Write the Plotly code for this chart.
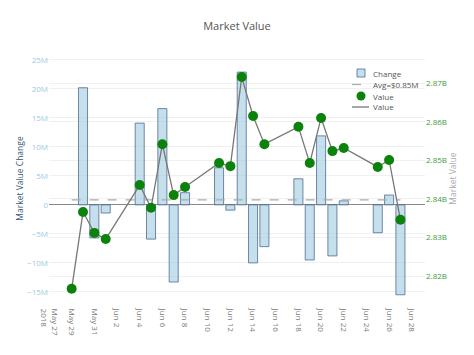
import plotly.graph_objects as go

# ---- data ----
value_dates = ["2018-05-29", "2018-05-30", "2018-05-31", "2018-06-01", "2018-06-04",
               "2018-06-05", "2018-06-06", "2018-06-07", "2018-06-08", "2018-06-11",
               "2018-06-12", "2018-06-13", "2018-06-14", "2018-06-15", "2018-06-18",
               "2018-06-19", "2018-06-20", "2018-06-21", "2018-06-22", "2018-06-25",
               "2018-06-26", "2018-06-27"]
values_b = [2.8167, 2.8366, 2.8312, 2.8296, 2.8436, 2.8377, 2.8542, 2.8410, 2.8431,
            2.8493, 2.8485, 2.8716, 2.8615, 2.8542, 2.8587, 2.8493, 2.8610, 2.8524,
            2.8532, 2.8483, 2.8501, 2.8346]
change_dates = value_dates[1:]
changes_m = [20.2, -5.7, -1.4, 14.1, -5.9, 16.6, -13.3, 2.1, 6.4, -0.9, 22.9, -10.0,
             -7.2, 4.5, -9.5, 11.9, -8.8, 0.7, -4.8, 1.7, -15.5]
avg_m = 0.85
legend_labels = ["Change", "Avg=$0.85M", "Value", "Value"]

values = [v * 1e9 for v in values_b]
changes = [c * 1e6 for c in changes_m]

BAR_FILL = "rgba(158,202,225,0.6)"
BAR_LINE = "rgba(70,100,140,0.75)"
GREEN = "#0b820b"
LINE_GREY = "#777777"
AVG_GREY = "#aaaaaa"

fig = go.Figure()
fig.add_trace(go.Bar(x=change_dates, y=changes, name=legend_labels[0],
                     marker=dict(color=BAR_FILL, line=dict(color=BAR_LINE, width=1)),
                     showlegend=False))
fig.add_trace(go.Scatter(x=[value_dates[0], value_dates[-1]], y=[avg_m * 1e6] * 2,
                         mode="lines", name=legend_labels[1],
                         line=dict(color=AVG_GREY, dash="dash", width=1.2),
                         showlegend=False))
fig.add_trace(go.Scatter(x=value_dates, y=values, mode="lines", name=legend_labels[3],
                         line=dict(color=LINE_GREY, width=1.3), yaxis="y2",
                         showlegend=False))
fig.add_trace(go.Scatter(x=value_dates, y=values, mode="markers", name=legend_labels[2],
                         marker=dict(color=GREEN, size=10), yaxis="y2",
                         showlegend=False))

# plot-area geometry (pixels) for the hand-drawn compact legend
L, R, T, B = 49, 425, 57, 300
def px(x):
    return (x - L) / (R - L)
def py(y):
    return (B - y) / (B - T)

shapes = [
    dict(type="rect", xref="paper", yref="paper", x0=px(357), x1=px(365), y0=py(77), y1=py(69),
         fillcolor=BAR_FILL, line=dict(color=BAR_LINE, width=1)),
    dict(type="line", xref="paper", yref="paper", x0=px(352), x1=px(369), y0=py(84.5), y1=py(84.5),
         line=dict(color=AVG_GREY, dash="dash", width=1.2)),
    dict(type="circle", xref="paper", yref="paper", x0=px(356.5), x1=px(365.5), y0=py(100.5), y1=py(91.5),
         fillcolor=GREEN, line=dict(color=GREEN, width=0)),
    dict(type="line", xref="paper", yref="paper", x0=px(352), x1=px(369), y0=py(107), y1=py(107),
         line=dict(color=LINE_GREY, width=1.3)),
]
annotations = []
for lab, yy in zip(legend_labels, [73, 84.5, 96, 107]):
    annotations.append(dict(text=lab, xref="paper", yref="paper", x=px(371), y=py(yy),
                            xanchor="left", yanchor="middle", showarrow=False,
                            font=dict(size=8, color="#555")))

fig.update_layout(
    width=474, height=355,
    margin=dict(l=L, r=474 - R, t=T, b=355 - B),
    paper_bgcolor="white", plot_bgcolor="white",
    font=dict(family="Open Sans", size=9, color="#666"),
    title=dict(text="Market Value", x=0.5, xanchor="center", y=1 - 26 / 355, yanchor="middle",
               font=dict(size=11, color="#555")),
    bargap=0.2,
    shapes=shapes, annotations=annotations,
    showlegend=False,
    xaxis=dict(type="date", range=["2018-05-27", "2018-06-29 04:00"],
               tick0="2018-05-27", dtick=2 * 86400000, tickangle=90,
               ticks="outside", ticklen=6, tickcolor="rgba(0,0,0,0)",
               tickfont=dict(size=8, color="#777"), showgrid=False, automargin=False,
               showline=False, zeroline=False),
    yaxis=dict(range=[-16.4e6, 25.5e6], dtick=5e6, exponentformat="B",
               tickfont=dict(size=8, color="#9ecae1"), gridcolor="#f0f0f0",
               zeroline=True, zerolinecolor="#888", zerolinewidth=1,
               title=dict(text="Market Value Change", font=dict(size=8.5, color="#3b5577"), standoff=2),
               automargin=False),
    yaxis2=dict(range=[2.8138e9, 2.8768e9], dtick=0.01e9, exponentformat="B",
                overlaying="y", side="right",
                tickfont=dict(size=8, color="#3c9a3c"), gridcolor="#f0f0f0",
                zeroline=False,
                title=dict(text="Market Value", font=dict(size=8.5, color="#aaa"), standoff=4),
                automargin=False),
)

fig.write_html("out.html")
